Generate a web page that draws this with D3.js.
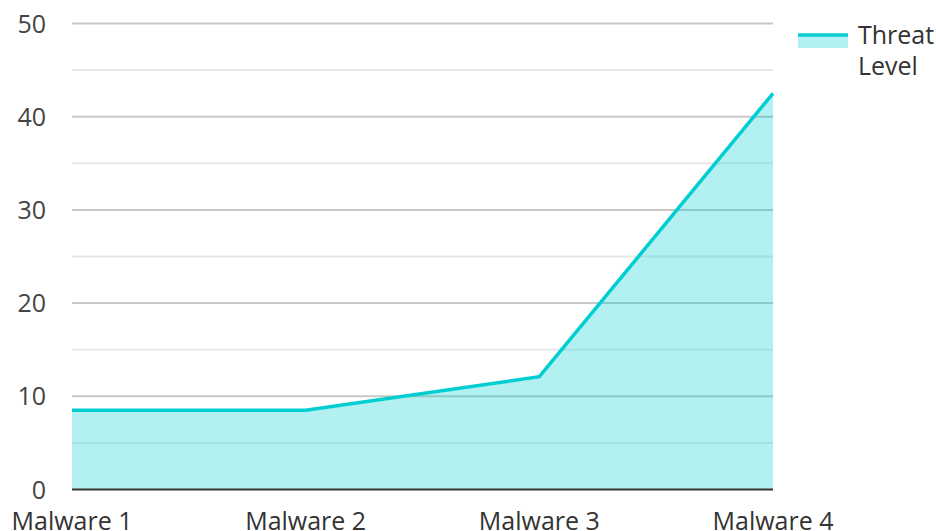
<!DOCTYPE html>
<html>
<head>
<meta charset="utf-8">
<style>
body { margin: 0; background: #fff; }
svg { display: block; font-family: "Open Sans", sans-serif; }
.grid-major { stroke: #c8c8c8; stroke-width: 2; }
.grid-minor { stroke: #e8e8e8; stroke-width: 2; }
.area { fill: #00ced1; fill-opacity: 0.3; }
.line { fill: none; stroke: #00ced1; stroke-width: 3.5; stroke-linejoin: miter; }
.tick-label { font-size: 25px; fill: #444; }
.cat-label { font-size: 25px; fill: #333; }
.legend-text { font-size: 25px; fill: #333; }
</style>
</head>
<body>

<svg id="chart" width="936" height="531">
</svg>

<script src="https://d3js.org/d3.v7.min.js"></script>
<script>

var categories = ["Malware 1", "Malware 2", "Malware 3", "Malware 4"];
var threatLevel = [8.5, 8.5, 12.1, 42.5];
var yTicks = [0, 10, 20, 30, 40, 50];
var yMinorTicks = [5, 15, 25, 35, 45];
var seriesName = ["Threat", "Level"];

var data = categories.map(function(c, i) { return {name: c, value: threatLevel[i]}; });

var margin = {top: 23.5, right: 163, bottom: 41.5, left: 72},
    width = 936 - margin.left - margin.right,
    height = 531 - margin.top - margin.bottom;

var svg = d3.select("#chart");

var chart = svg.append("g")
    .attr("transform", "translate(" + margin.left + "," + margin.top + ")");

var xScale = d3.scalePoint()
    .domain(categories)
    .range([0, width]);

var yScale = d3.scaleLinear()
    .domain([0, 50])
    .range([height, 0]);

// grid lines (drawn first, the area is translucent on top)
chart.selectAll(".grid-minor")
    .data(yMinorTicks)
    .enter()
    .append("line")
    .attr("class", "grid-minor")
    .attr("x1", 0)
    .attr("x2", width)
    .attr("y1", function(d) { return yScale(d); })
    .attr("y2", function(d) { return yScale(d); });

chart.selectAll(".grid-major")
    .data(yTicks.filter(function(d) { return d > 0; }))
    .enter()
    .append("line")
    .attr("class", "grid-major")
    .attr("x1", 0)
    .attr("x2", width)
    .attr("y1", function(d) { return yScale(d); })
    .attr("y2", function(d) { return yScale(d); });

// area + line
var area = d3.area()
    .x(function(d) { return xScale(d.name); })
    .y0(height)
    .y1(function(d) { return yScale(d.value); });

var line = d3.line()
    .x(function(d) { return xScale(d.name); })
    .y(function(d) { return yScale(d.value); });

chart.append("path")
    .datum(data)
    .attr("class", "area")
    .attr("d", area);

chart.append("path")
    .datum(data)
    .attr("class", "line")
    .attr("d", line);

// baseline
chart.append("line")
    .attr("x1", 0)
    .attr("x2", width)
    .attr("y1", height)
    .attr("y2", height)
    .attr("stroke", "#333")
    .attr("stroke-width", 2);

// y tick labels
chart.selectAll(".tick-label")
    .data(yTicks)
    .enter()
    .append("text")
    .attr("class", "tick-label")
    .attr("x", -26)
    .attr("y", function(d) { return yScale(d); })
    .attr("dy", "0.36em")
    .attr("text-anchor", "end")
    .text(function(d) { return d; });

// category labels
chart.selectAll(".cat-label")
    .data(categories)
    .enter()
    .append("text")
    .attr("class", "cat-label")
    .attr("x", function(d) { return xScale(d); })
    .attr("y", height + 40.5)
    .attr("text-anchor", "middle")
    .text(function(d) { return d; });

// legend
var legend = svg.append("g")
    .attr("transform", "translate(798,35)");

legend.append("rect")
    .attr("x", 0)
    .attr("y", 0)
    .attr("width", 50)
    .attr("height", 13)
    .attr("class", "area");

legend.append("line")
    .attr("x1", 0)
    .attr("x2", 50)
    .attr("y1", 0)
    .attr("y2", 0)
    .attr("stroke", "#00ced1")
    .attr("stroke-width", 3.5);

legend.selectAll(".legend-text")
    .data(seriesName)
    .enter()
    .append("text")
    .attr("class", "legend-text")
    .attr("x", 60)
    .attr("y", function(d, i) { return 9 + i * 31; })
    .text(function(d) { return d; });

</script>
</body>
</html>
